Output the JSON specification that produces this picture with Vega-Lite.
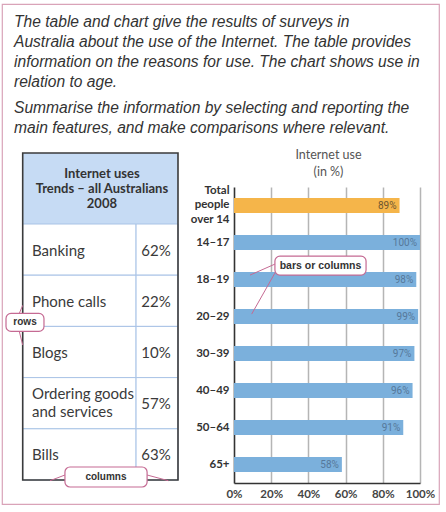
{
  "$schema": "https://vega.github.io/schema/vega-lite/v6.json",
  "width": 437,
  "height": 500,
  "autosize": {"type": "none"},
  "padding": {"left": 2, "top": 4, "right": 7, "bottom": 8},
  "background": "white",
  "title": {
    "text": [
      "The table and chart give the results of surveys in",
      "Australia about the use of the Internet. The table provides",
      "information on the reasons for use. The chart shows use in",
      "relation to age."
    ],
    "subtitle": [
      "Summarise the information by selecting and reporting the",
      "main features, and make comparisons where relevant."
    ],
    "anchor": "start",
    "frame": "group",
    "offset": -133,
    "dx": 12,
    "font": "Liberation Sans",
    "fontStyle": "italic",
    "fontWeight": "normal",
    "fontSize": 15.6,
    "lineHeight": 20,
    "color": "#333333",
    "subtitleFont": "Liberation Sans",
    "subtitleFontStyle": "italic",
    "subtitleFontSize": 15.6,
    "subtitleLineHeight": 20.5,
    "subtitleColor": "#333333",
    "subtitlePadding": 10
  },
  "config": {
    "view": {"stroke": "#d9a3b8", "strokeWidth": 1.2}
  },
  "resolve": {"scale": {"x": "independent", "y": "independent"}},
  "layer": [
    {
      "data": {"values": [{"part": "header", "heading": "Internet uses\nTrends – all Australians\n2008"}]},
      "encoding": {
        "y": {"field": "part", "type": "nominal", "scale": {"domain": ["header"], "range": [149, 220], "paddingInner": 0, "paddingOuter": 0}, "axis": null}
      },
      "layer": [
        {
          "mark": {"type": "rect", "fill": "#c6dbf4"},
          "encoding": {
            "x": {"datum": 0, "type": "quantitative", "scale": {"domain": [0, 100], "range": [20.7, 176], "nice": false}, "axis": null},
            "x2": {"datum": 100}
          }
        },
        {
          "mark": {"type": "text", "font": "Lato", "fontWeight": "bold", "fontSize": 13, "color": "#333333", "lineBreak": "\n", "lineHeight": 15, "baseline": "middle", "dy": -15},
          "encoding": {
            "x": {"datum": 51, "type": "quantitative"},
            "text": {"field": "heading"}
          }
        }
      ]
    },
    {
      "data": {"values": [
        {"use": "Banking", "share": 0.62},
        {"use": "Phone calls", "share": 0.22},
        {"use": "Blogs", "share": 0.10},
        {"use": "Ordering goods\nand services", "share": 0.57},
        {"use": "Bills", "share": 0.63}
      ]},
      "encoding": {
        "y": {"field": "use", "type": "nominal", "sort": null, "scale": {"range": [220, 476], "paddingInner": 0, "paddingOuter": 0}, "axis": null}
      },
      "layer": [
        {
          "mark": {"type": "rect", "fill": "white", "stroke": "#a9c3e6", "strokeWidth": 1},
          "encoding": {
            "x": {"datum": 0, "type": "quantitative", "scale": {"domain": [0, 100], "range": [20.7, 176], "nice": false}, "axis": null},
            "x2": {"datum": 73}
          }
        },
        {
          "mark": {"type": "rect", "fill": "white", "stroke": "#a9c3e6", "strokeWidth": 1},
          "encoding": {
            "x": {"datum": 73, "type": "quantitative"},
            "x2": {"datum": 100}
          }
        },
        {
          "mark": {
            "type": "text", "align": "left", "baseline": "middle", "font": "Lato", "fontSize": 15, "color": "#3a3a3a",
            "lineBreak": "\n", "lineHeight": 18,
            "dy": {"expr": "indexof(datum.use, '\\n') >= 0 ? -9 : 1"}
          },
          "encoding": {
            "x": {"datum": 6, "type": "quantitative"},
            "text": {"field": "use"}
          }
        },
        {
          "mark": {"type": "text", "align": "right", "baseline": "middle", "dy": 1, "font": "Lato", "fontSize": 15, "color": "#3a3a3a"},
          "encoding": {
            "x": {"datum": 95.3, "type": "quantitative"},
            "text": {"field": "share", "type": "quantitative", "format": ".0%"}
          }
        }
      ]
    },
    {
      "data": {"values": [{"part": "table"}]},
      "mark": {"type": "rect", "fill": null, "stroke": "#3b3b3b", "strokeWidth": 1.6},
      "encoding": {
        "y": {"field": "part", "type": "nominal", "scale": {"domain": ["table"], "range": [149, 476], "paddingInner": 0, "paddingOuter": 0}, "axis": null},
        "x": {"datum": 0, "type": "quantitative", "scale": {"domain": [0, 100], "range": [20.7, 176], "nice": false}, "axis": null},
        "x2": {"datum": 100}
      }
    },
    {
      "data": {"values": [{"note": "rows"}]},
      "encoding": {
        "y": {"datum": "Blogs", "type": "nominal", "bandPosition": 0, "scale": {"domain": ["Banking", "Phone calls", "Blogs", "Ordering goods\nand services", "Bills"], "range": [220, 476], "paddingInner": 0, "paddingOuter": 0}, "axis": null}
      },
      "layer": [
        {
          "mark": {"type": "rule", "stroke": "#c56a93", "strokeWidth": 1, "yOffset": -13, "y2Offset": -21},
          "encoding": {
            "x": {"datum": -2.2, "type": "quantitative", "scale": {"domain": [0, 100], "range": [20.7, 176], "nice": false}, "axis": null},
            "x2": {"datum": 0},
            "y2": {"datum": "Blogs", "bandPosition": 0}
          }
        },
        {
          "mark": {"type": "rule", "stroke": "#c56a93", "strokeWidth": 1, "yOffset": 5, "y2Offset": 18.6},
          "encoding": {
            "x": {"datum": -2.2, "type": "quantitative"},
            "x2": {"datum": 0},
            "y2": {"datum": "Blogs", "bandPosition": 0}
          }
        },
        {
          "mark": {"type": "rect", "fill": "white", "stroke": "#c56a93", "strokeWidth": 1.2, "cornerRadius": 5, "yOffset": -13, "y2Offset": 5},
          "encoding": {
            "x": {"datum": -10.75, "type": "quantitative"},
            "x2": {"datum": 13.7},
            "y2": {"datum": "Blogs", "bandPosition": 0}
          }
        },
        {
          "mark": {"type": "text", "font": "Liberation Sans", "fontWeight": "bold", "fontSize": 10, "color": "#333333", "baseline": "middle", "yOffset": -4},
          "encoding": {
            "x": {"datum": 1.5, "type": "quantitative"},
            "text": {"field": "note"}
          }
        }
      ]
    },
    {
      "data": {"values": [{"note": "columns"}]},
      "encoding": {
        "y": {"datum": "Bills", "type": "nominal", "bandPosition": 1, "scale": {"domain": ["Banking", "Phone calls", "Blogs", "Ordering goods\nand services", "Bills"], "range": [220, 476], "paddingInner": 0, "paddingOuter": 0}, "axis": null}
      },
      "layer": [
        {
          "mark": {"type": "rule", "stroke": "#c56a93", "strokeWidth": 1, "yOffset": -5, "y2Offset": 0.7},
          "encoding": {
            "x": {"datum": 27.2, "type": "quantitative", "scale": {"domain": [0, 100], "range": [20.7, 176], "nice": false}, "axis": null},
            "x2": {"datum": 17.6},
            "y2": {"datum": "Bills", "bandPosition": 1}
          }
        },
        {
          "mark": {"type": "rule", "stroke": "#c56a93", "strokeWidth": 1, "yOffset": -5, "y2Offset": 0.7},
          "encoding": {
            "x": {"datum": 80.1, "type": "quantitative"},
            "x2": {"datum": 93.8},
            "y2": {"datum": "Bills", "bandPosition": 1}
          }
        },
        {
          "mark": {"type": "rect", "fill": "white", "stroke": "#c56a93", "strokeWidth": 1.2, "cornerRadius": 5, "yOffset": -13, "y2Offset": 7},
          "encoding": {
            "x": {"datum": 27.2, "type": "quantitative"},
            "x2": {"datum": 80.1},
            "y2": {"datum": "Bills", "bandPosition": 1}
          }
        },
        {
          "mark": {"type": "text", "font": "Liberation Sans", "fontWeight": "bold", "fontSize": 10, "color": "#333333", "baseline": "middle", "yOffset": -3},
          "encoding": {
            "x": {"datum": 53.6, "type": "quantitative"},
            "text": {"field": "note"}
          }
        }
      ]
    },
    {
      "data": {"values": [
        {"group": "Total people over 14", "pct": 0.89},
        {"group": "14–17", "pct": 1.00},
        {"group": "18–19", "pct": 0.98},
        {"group": "20–29", "pct": 0.99},
        {"group": "30–39", "pct": 0.97},
        {"group": "40–49", "pct": 0.96},
        {"group": "50–64", "pct": 0.91},
        {"group": "65+", "pct": 0.58}
      ]},
      "encoding": {
        "y": {
          "field": "group", "type": "nominal", "sort": null,
          "scale": {"range": [183, 479], "paddingInner": 0.6, "paddingOuter": 0.3},
          "axis": {
            "orient": "left", "offset": -232, "grid": false, "ticks": false,
            "domainColor": "#333333", "domainWidth": 1.6,
            "labelPadding": 5, "labelFont": "Lato", "labelFontWeight": "bold", "labelFontSize": 11.5,
            "labelColor": "#333333", "labelLineHeight": 14.3,
            "labelExpr": "datum.value == 'Total people over 14' ? ['Total', 'people', 'over 14'] : datum.label",
            "labelOffset": {"condition": {"test": "datum.value == 'Total people over 14'", "value": -14.3}, "value": 0},
            "title": ["Internet use", "(in %)"], "titleAngle": 0, "titleAlign": "center", "titleBaseline": "top",
            "titleX": 94, "titleY": 144, "titleFont": "Lato", "titleFontWeight": "normal", "titleFontSize": 12.5,
            "titleColor": "#555555", "titleLineHeight": 17.5
          }
        }
      },
      "layer": [
        {
          "mark": {"type": "bar"},
          "encoding": {
            "x": {
              "field": "pct", "type": "quantitative",
              "scale": {"domain": [0, 1], "range": [232, 418], "nice": false},
              "axis": {
                "orient": "bottom", "offset": -21, "values": [0, 0.2, 0.4, 0.6, 0.8, 1], "format": ".0%",
                "grid": false, "ticks": true, "tickSize": -296, "tickColor": "#b5b5b5", "tickWidth": 1.5,
                "tickOpacity": {"condition": {"test": "datum.value === 0", "value": 0}, "value": 1},
                "labelPadding": 301, "labelFont": "Lato", "labelFontWeight": "bold", "labelFontSize": 11.5,
                "labelColor": "#444444", "labelFlush": false, "domainColor": "#333333", "domainWidth": 1.6,
                "title": null
              }
            },
            "color": {"condition": {"test": "datum.group === 'Total people over 14'", "value": "#f5b54a"}, "value": "#7bb0dc"}
          }
        },
        {
          "mark": {"type": "text", "align": "right", "baseline": "middle", "dx": -3, "font": "Roboto", "fontSize": 10},
          "encoding": {
            "x": {"field": "pct", "type": "quantitative"},
            "text": {"field": "pct", "type": "quantitative", "format": ".0%"},
            "color": {"condition": {"test": "datum.group === 'Total people over 14'", "value": "#6e5530"}, "value": "#56789a"}
          }
        },
        {
          "data": {"values": [{"note": "bars or columns"}]},
          "encoding": {"y": {"datum": "18–19", "bandPosition": 0}},
          "layer": [
            {
              "mark": {"type": "rule", "stroke": "#c56a93", "strokeWidth": 1, "yOffset": -8, "y2Offset": 3},
              "encoding": {
                "x": {"datum": 0.22, "type": "quantitative"},
                "x2": {"datum": 0.086},
                "y2": {"datum": "18–19", "bandPosition": 0}
              }
            },
            {
              "mark": {"type": "rule", "stroke": "#c56a93", "strokeWidth": 1, "yOffset": -4, "y2Offset": 5},
              "encoding": {
                "x": {"datum": 0.235, "type": "quantitative"},
                "x2": {"datum": 0.095},
                "y2": {"datum": "20–29", "bandPosition": 0}
              }
            },
            {
              "mark": {"type": "rect", "fill": "white", "stroke": "#c56a93", "strokeWidth": 1.2, "cornerRadius": 5, "yOffset": -16, "y2Offset": 3},
              "encoding": {
                "x": {"datum": 0.22, "type": "quantitative"},
                "x2": {"datum": 0.71},
                "y2": {"datum": "18–19", "bandPosition": 0}
              }
            },
            {
              "mark": {"type": "text", "font": "Liberation Sans", "fontWeight": "bold", "fontSize": 10.5, "color": "#333333", "baseline": "middle", "yOffset": -6.5},
              "encoding": {
                "x": {"datum": 0.465, "type": "quantitative"},
                "text": {"field": "note"}
              }
            }
          ]
        }
      ]
    }
  ]
}
